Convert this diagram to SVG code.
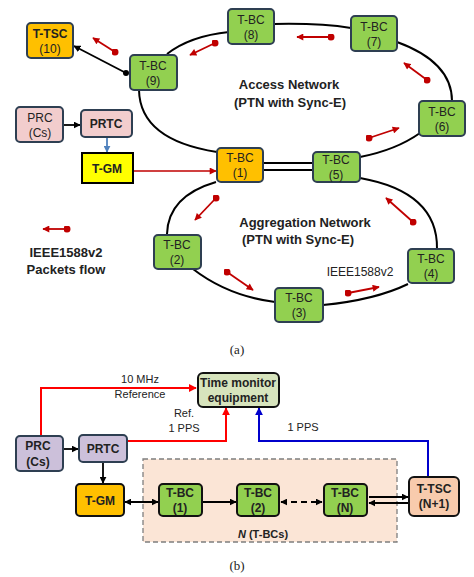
<svg xmlns="http://www.w3.org/2000/svg" width="474" height="577" viewBox="0 0 474 577">
<defs>
<marker id="rh" viewBox="0 0 10 10" refX="9" refY="5" markerWidth="8" markerHeight="7" orient="auto-start-reverse" markerUnits="userSpaceOnUse"><path d="M0,0 L10,5 L0,10 z" fill="#C00000"/></marker>
<marker id="rd" viewBox="0 0 10 10" refX="5" refY="5" markerWidth="7" markerHeight="7" markerUnits="userSpaceOnUse"><circle cx="5" cy="5" r="5" fill="#C00000"/></marker>
<marker id="bh" viewBox="0 0 10 10" refX="9" refY="5" markerWidth="7" markerHeight="7" orient="auto-start-reverse" markerUnits="userSpaceOnUse"><path d="M0,0 L10,5 L0,10 z" fill="#000"/></marker>
<marker id="bd" viewBox="0 0 10 10" refX="5" refY="5" markerWidth="6" markerHeight="6" markerUnits="userSpaceOnUse"><circle cx="5" cy="5" r="5" fill="#000"/></marker>
<marker id="rA" viewBox="0 0 10 10" refX="9" refY="5" markerWidth="8" markerHeight="8" orient="auto" markerUnits="userSpaceOnUse"><path d="M0,0 L10,5 L0,10 z" fill="#FF0000"/></marker>
<marker id="bA" viewBox="0 0 10 10" refX="9" refY="5" markerWidth="8" markerHeight="8" orient="auto" markerUnits="userSpaceOnUse"><path d="M0,0 L10,5 L0,10 z" fill="#0000CC"/></marker>
<marker id="blA" viewBox="0 0 10 10" refX="9" refY="5" markerWidth="7" markerHeight="7" orient="auto" markerUnits="userSpaceOnUse"><path d="M0,0 L10,5 L0,10 z" fill="#4F81BD"/></marker>
</defs>
<style>
text{font-family:"Liberation Sans",Arial,sans-serif;fill:#222;}
.n{stroke:#2E3F52;stroke-width:2;}
.g{fill:#92D050;}
.o{fill:#FFC000;}
.p{fill:#F2CDCD;}
.lv{fill:#CCC0DA;}
.pe{fill:#F8CBAD;}
.t{font-size:12px;text-anchor:middle;}
.tb{font-size:12px;text-anchor:middle;font-weight:bold;}
.ring{fill:none;stroke:#000;stroke-width:2;}
.pk{stroke:#C00000;stroke-width:1.8;fill:none;marker-start:url(#rd);marker-end:url(#rh);}
.bl{stroke:#000;stroke-width:1.8;fill:none;}
.lbl{font-size:13px;font-weight:bold;text-anchor:middle;}
.cap{font-family:"Liberation Serif","Times New Roman",serif;font-size:13px;text-anchor:middle;}
</style>

<g id="connectors">
<path class="ring" d="M167,54 Q190,36 229,32"/>
<path class="ring" d="M274,24 Q320,23 351,28"/>
<path class="ring" d="M397,42 Q452,62 452,101"/>
<path class="ring" d="M420,133 Q396,150 360,157"/>
<path class="ring" d="M139,90 Q140,140 217,152"/>
<path class="ring" d="M263,163 L313,163 M263,170 L313,170"/>
<path class="ring" d="M216,182 Q168,196 167,234"/>
<path class="ring" d="M193,269 Q228,296 275,302"/>
<path class="ring" d="M323,305 Q375,300 408,284"/>
<path class="ring" d="M437,249 Q438,192 360,178"/>
<line class="bl" x1="126" y1="73" x2="74" y2="46" marker-start="url(#bd)" marker-end="url(#bh)"/>
<line class="bl" x1="63" y1="125" x2="80" y2="125" marker-end="url(#bh)"/>
<line x1="107" y1="137" x2="107" y2="152" stroke="#4F81BD" stroke-width="1.8" marker-end="url(#blA)"/>
<line x1="133" y1="171" x2="216" y2="171" stroke="#C00000" stroke-width="1.5" marker-end="url(#rh)"/>
<line class="pk" x1="115" y1="52" x2="93" y2="38"/>
<line class="pk" x1="215" y1="43" x2="190" y2="55"/>
<line class="pk" x1="331" y1="37" x2="297" y2="37"/>
<line class="pk" x1="427" y1="80" x2="404" y2="63"/>
<line class="pk" x1="369" y1="138" x2="399" y2="128"/>
<line class="pk" x1="216" y1="198" x2="195" y2="220"/>
<line class="pk" x1="227" y1="272" x2="253" y2="290"/>
<line class="pk" x1="348" y1="293" x2="379" y2="287"/>
<line class="pk" x1="413" y1="222" x2="386" y2="198"/>
<line class="pk" x1="67" y1="229" x2="43" y2="229"/>

<polyline points="41,436 41,388 196,388" fill="none" stroke="#FF0000" stroke-width="2" marker-end="url(#rA)"/>
<polyline points="127,441 226,441 226,408" fill="none" stroke="#FF0000" stroke-width="2" marker-end="url(#rA)"/>
<polyline points="428,477 428,441 259,441 259,408" fill="none" stroke="#0000CC" stroke-width="2" marker-end="url(#bA)"/>
<line class="bl" x1="63" y1="449" x2="78" y2="449" marker-end="url(#bh)"/>
<line class="bl" x1="103" y1="462" x2="103" y2="483" marker-end="url(#bh)"/>
</g>

<g id="groupN">
<rect x="143" y="459" width="254" height="83" fill="#FBE5D6" stroke="#7F7F7F" stroke-width="1.3" stroke-dasharray="5,3"/>
<text x="263" y="538" style="font-size:11px;text-anchor:middle;font-weight:bold"><tspan font-style="italic">N</tspan> (T-BCs)</text>
</g>

<g id="connectors-b">
<line class="bl" x1="125" y1="502" x2="158" y2="502" marker-start="url(#bh)" marker-end="url(#bh)"/>
<line class="bl" x1="202" y1="502" x2="236" y2="502" marker-end="url(#bh)"/>
<line class="bl" x1="281" y1="502" x2="322" y2="502" stroke-dasharray="6,4" marker-start="url(#bh)" marker-end="url(#bh)"/>
<line class="bl" x1="369" y1="497" x2="408" y2="497" marker-end="url(#bh)"/>
<line class="bl" x1="408" y1="503" x2="369" y2="503" marker-end="url(#bh)"/>
</g>

<g id="tsc10"><rect class="n o" x="27" y="23" width="46" height="35" rx="4"/><text class="tb" x="50" y="38">T-TSC</text><text class="t" x="50" y="53">(10)</text></g>
<g id="tbc9"><rect class="n g" x="130" y="55" width="47" height="35" rx="4"/><text class="t" x="153" y="70">T-BC</text><text class="t" x="153" y="85">(9)</text></g>
<g id="tbc8"><rect class="n g" x="228" y="9" width="46" height="35" rx="4"/><text class="t" x="251" y="24">T-BC</text><text class="t" x="251" y="39">(8)</text></g>
<g id="tbc7"><rect class="n g" x="351" y="16" width="46" height="35" rx="4"/><text class="t" x="374" y="31">T-BC</text><text class="t" x="374" y="46">(7)</text></g>
<g id="tbc6"><rect class="n g" x="419" y="101" width="46" height="35" rx="4"/><text class="t" x="442" y="116">T-BC</text><text class="t" x="442" y="131">(6)</text></g>
<g id="tbc5"><rect class="n g" x="313" y="152" width="47" height="30" rx="4"/><text class="t" x="336" y="164">T-BC</text><text class="t" x="336" y="179">(5)</text></g>
<g id="tbc1"><rect class="n o" x="217" y="148" width="46" height="34" rx="4"/><text class="t" x="240" y="162">T-BC</text><text class="t" x="240" y="177">(1)</text></g>
<g id="tbc2"><rect class="n g" x="154" y="235" width="47" height="34" rx="4"/><text class="t" x="177" y="249">T-BC</text><text class="t" x="177" y="264">(2)</text></g>
<g id="tbc3"><rect class="n g" x="275" y="288" width="48" height="34" rx="4"/><text class="t" x="299" y="302">T-BC</text><text class="t" x="299" y="317">(3)</text></g>
<g id="tbc4"><rect class="n g" x="408" y="249" width="46" height="34" rx="4"/><text class="t" x="431" y="263">T-BC</text><text class="t" x="431" y="278">(4)</text></g>
<g id="prcA"><rect class="n p" x="16" y="107" width="47" height="35" rx="4"/><text class="t" x="40" y="122">PRC</text><text class="t" x="40" y="137">(Cs)</text></g>
<g id="prtcA"><rect class="n p" x="81" y="110" width="51" height="27" rx="4"/><text class="tb" x="106" y="128">PRTC</text></g>
<g id="tgmA"><rect x="82" y="153" width="51" height="30" fill="#FFFF00" stroke="#000" stroke-width="2"/><text class="tb" x="107" y="173">T-GM</text></g>

<g id="labels-a">
<text class="lbl" x="289" y="89">Access Network</text>
<text class="lbl" x="290" y="107">(PTN with Sync-E)</text>
<text class="lbl" x="305" y="227">Aggregation Network</text>
<text class="lbl" x="298" y="244">(PTN with Sync-E)</text>
<text x="360" y="276" style="font-size:12px;text-anchor:middle">IEEE1588v2</text>
<text class="lbl" x="66" y="257">IEEE1588v2</text>
<text class="lbl" x="66" y="274">Packets flow</text>
<text class="cap" x="237" y="354">(a)</text>
</g>

<g id="tme"><rect x="198" y="373" width="81" height="34" rx="5" fill="#D7E4BD" stroke="#111" stroke-width="2"/><text class="tb" x="238" y="387">Time monitor</text><text class="tb" x="238" y="402">equipment</text></g>
<g id="prcB"><rect class="n lv" x="16" y="436" width="47" height="35" rx="4" stroke="#111"/><text class="tb" x="38" y="450">PRC</text><text class="tb" x="38" y="466">(Cs)</text></g>
<g id="prtcB"><rect class="n lv" x="79" y="435" width="48" height="27" rx="4" stroke="#111"/><text class="tb" x="103" y="453">PRTC</text></g>
<g id="tgmB"><rect x="76" y="484" width="48" height="32" rx="4" fill="#FFC000" stroke="#111" stroke-width="2"/><text class="tb" x="100" y="505">T-GM</text></g>
<g id="tbcB1"><rect x="159" y="484" width="43" height="32" rx="4" fill="#92D050" stroke="#111" stroke-width="2"/><text class="tb" x="180" y="497">T-BC</text><text class="tb" x="180" y="512">(1)</text></g>
<g id="tbcB2"><rect x="237" y="484" width="42" height="32" rx="4" fill="#92D050" stroke="#111" stroke-width="2"/><text class="tb" x="258" y="497">T-BC</text><text class="tb" x="258" y="512">(2)</text></g>
<g id="tbcBN"><rect x="324" y="484" width="43" height="32" rx="4" fill="#92D050" stroke="#111" stroke-width="2"/><text class="tb" x="345" y="497">T-BC</text><text class="tb" x="345" y="512">(N)</text></g>
<g id="tscB"><rect x="409" y="477" width="50" height="39" rx="5" fill="#F8CBAD" stroke="#111" stroke-width="2"/><text class="tb" x="434" y="493">T-TSC</text><text class="tb" x="434" y="508">(N+1)</text></g>

<g id="labels-b">
<text x="140" y="383" style="font-size:11px;text-anchor:middle">10 MHz</text>
<text x="140" y="398" style="font-size:11px;text-anchor:middle">Reference</text>
<text x="184" y="417" style="font-size:11px;text-anchor:middle">Ref.</text>
<text x="184" y="432" style="font-size:11px;text-anchor:middle">1 PPS</text>
<text x="303" y="431" style="font-size:11px;text-anchor:middle">1 PPS</text>
<text class="cap" x="237" y="570">(b)</text>
</g>
</svg>
